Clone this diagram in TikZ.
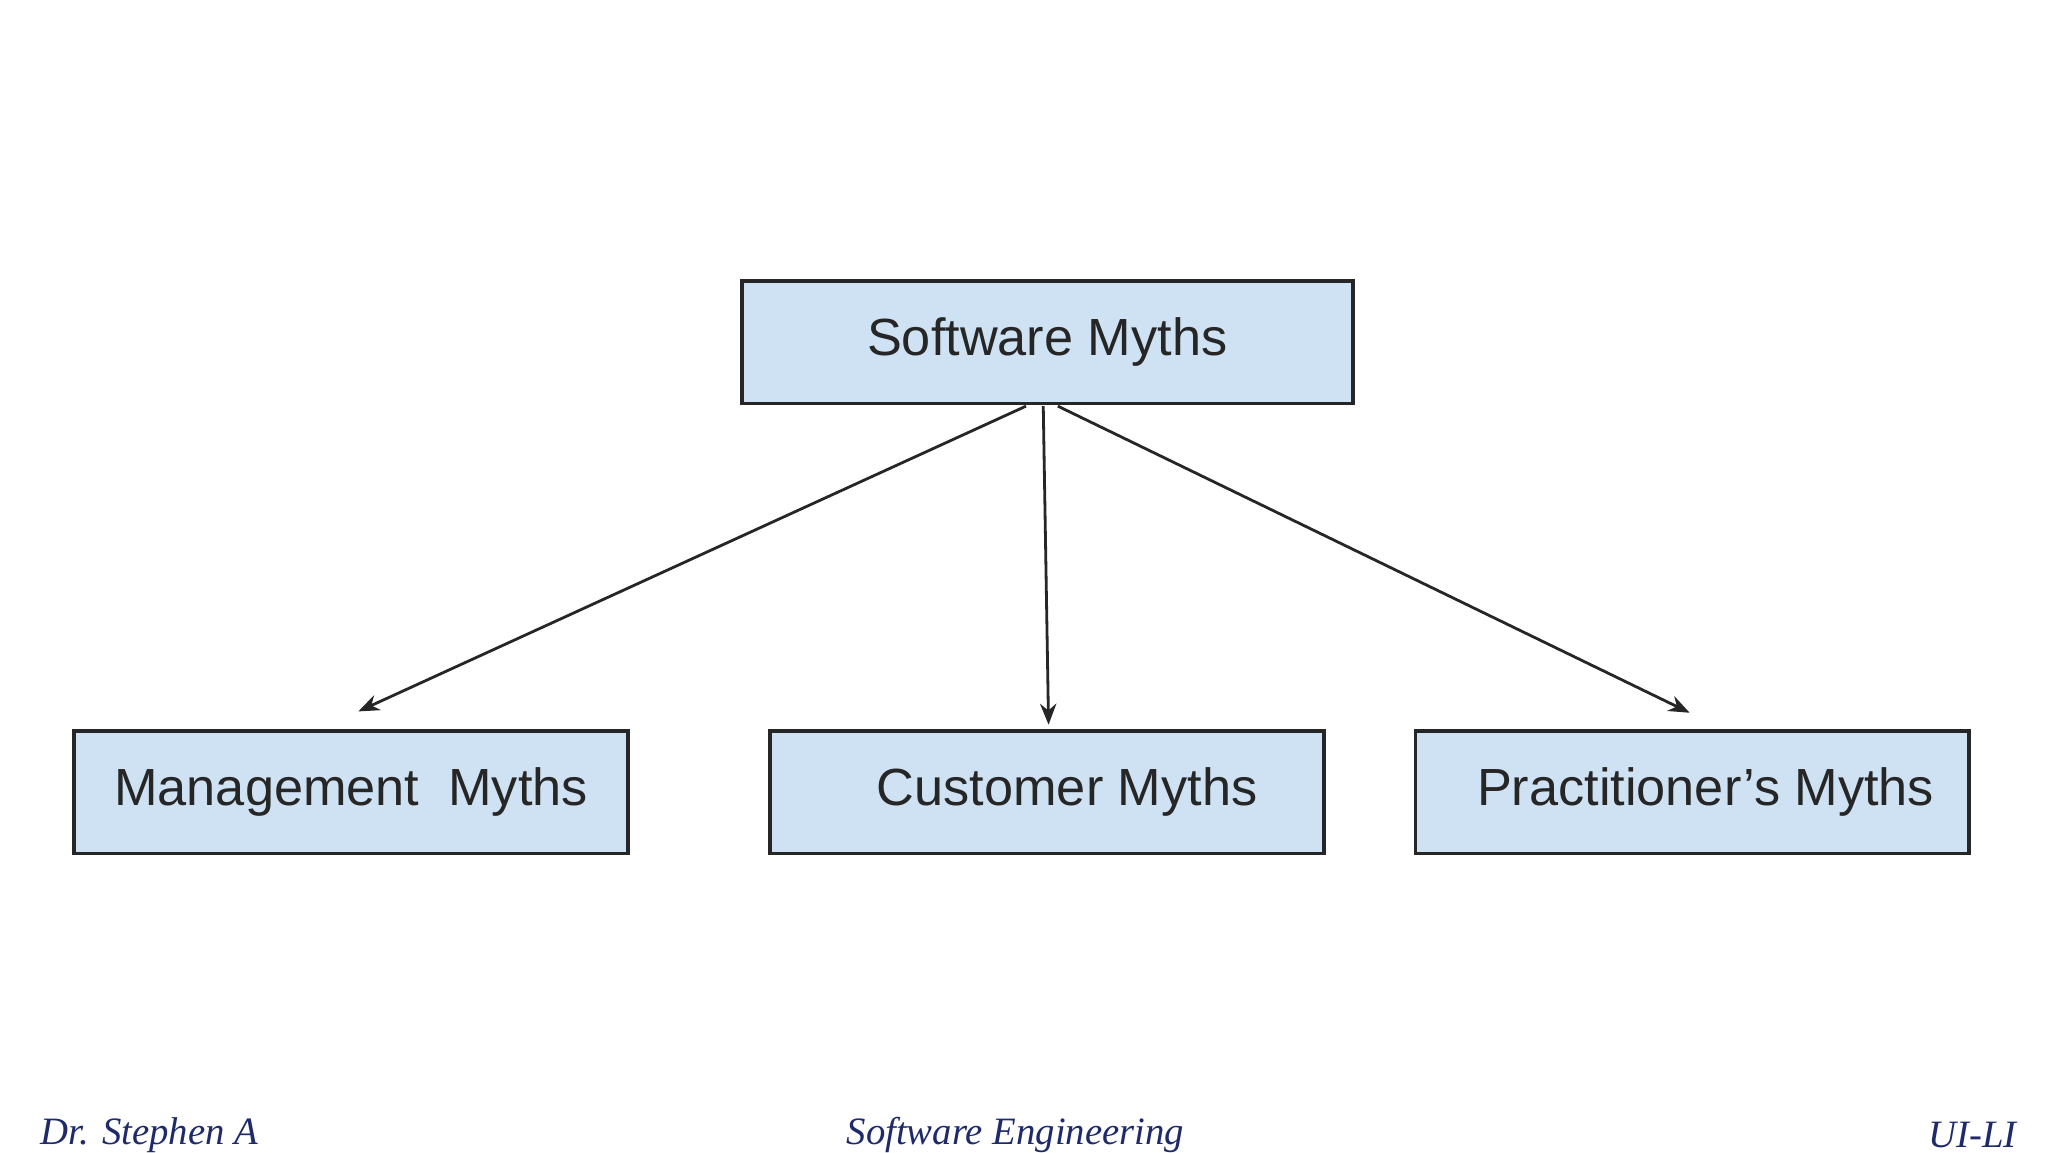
\documentclass[tikz,border=0pt]{standalone}
\usepackage{fontspec}
\setmainfont{Liberation Sans}
\newfontfamily\footfont{Liberation Serif}
\usetikzlibrary{arrows.meta}
\definecolor{boxfill}{HTML}{CFE2F3}
\definecolor{footblue}{HTML}{1F2A6B}
\begin{document}
\begin{tikzpicture}[x=0.01cm,y=-0.01cm,
  mythbox/.style={draw=black!85,line width=0.8pt,fill=boxfill,minimum width=4.17cm,minimum height=0.92cm,inner sep=0pt,font=\fontsize{11.2}{13}\selectfont,text=black!85},
  link/.style={draw=black!85,line width=0.6pt,-{Stealth[length=4.5pt,width=3.5pt]}},
  foot/.style={font=\footfont\itshape\fontsize{8.3}{10}\selectfont,text=footblue,inner sep=0pt}]
\useasboundingbox (0,0) rectangle (1543,868);
\node[mythbox,minimum width=4.6cm] (top) at (789,258) {Software Myths};
\node[mythbox] (mgmt) at (264.5,597) {Management\ \ Myths};
\node[mythbox] (cust) at (789,597) {\hspace*{0.3cm}Customer Myths};
\node[mythbox] (prac) at (1275,597) {\hspace*{0.2cm}Practitioner’s Myths};
\coordinate (s1) at (773,306); \coordinate (e1) at (270,536);
\coordinate (s2) at (786,306); \coordinate (e2) at (790,546);
\coordinate (s3) at (797,306); \coordinate (e3) at (1273,537);
\draw[link] (s1) -- (e1);
\draw[link] (s2) -- (e2);
\draw[link] (s3) -- (e3);
\node[foot,anchor=west] (f1) at (30,855) {Dr. Stephen A};
\node[foot] (f2) at (765,855) {Software Engineering};
\node[foot,anchor=east] (f3) at (1520,855) {UI-LI};
\end{tikzpicture}
\end{document}
